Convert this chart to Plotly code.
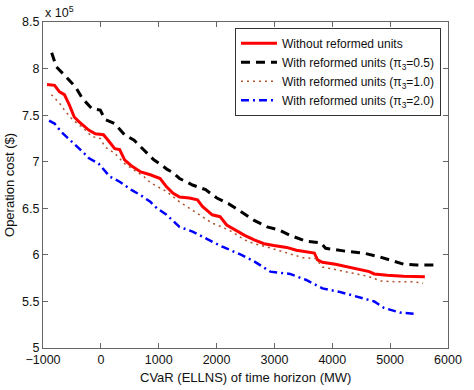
import plotly.graph_objects as go

# ---- data (operation cost in units of 1e5 $) ----
red_x = [-930, -800, -715, -630, -545, -460, -380, -210, -95, 45, 125, 240, 325, 410, 520, 690, 855, 1025,
         1135, 1250, 1360, 1530, 1670, 1755, 1925, 2060, 2175, 2315, 2485, 2650, 2820, 2990, 3210, 3380,
         3550, 3690, 3745, 3830, 4055, 4280, 4500, 4640, 4725, 4950, 5230, 5600]
red_y = [7.83, 7.82, 7.75, 7.72, 7.61, 7.48, 7.43, 7.34, 7.30, 7.29, 7.23, 7.14, 7.13, 7.02, 6.96, 6.89, 6.86, 6.82,
         6.73, 6.66, 6.62, 6.61, 6.59, 6.52, 6.43, 6.41, 6.32, 6.27, 6.21, 6.16, 6.12, 6.10, 6.08, 6.05,
         6.03, 6.02, 5.945, 5.92, 5.90, 5.87, 5.84, 5.82, 5.795, 5.78, 5.77, 5.765]

black_x = [-850, -770, -600, -435, -320, -155, -10, 70, 240, 410, 575, 745, 915, 1080, 1140, 1250, 1360, 1585,
           1810, 2005, 2205, 2430, 2650, 2875, 3070, 3270, 3550, 3800, 3885, 4220, 4530, 4810, 5005, 5230,
           5455, 5850]
black_y = [8.17, 8.02, 7.91, 7.80, 7.68, 7.57, 7.555, 7.455, 7.41, 7.29, 7.23, 7.13, 7.02, 6.95, 6.92, 6.88, 6.82, 6.75,
           6.70, 6.61, 6.55, 6.46, 6.37, 6.30, 6.27, 6.21, 6.145, 6.13, 6.07, 6.04, 6.02, 5.98, 5.945, 5.90,
           5.89, 5.89]

brown_x = [-855, -715, -630, -490, -320, -155, -10, 70, 240, 410, 575, 745, 855, 1135, 1360, 1585, 1755, 1925,
           2090, 2260, 2485, 2650, 2900, 3100, 3325, 3495, 3715, 3830, 4055, 4335, 4615, 4840, 5120, 5400, 5570]
brown_y = [7.72, 7.63, 7.555, 7.45, 7.37, 7.27, 7.25, 7.16, 7.09, 6.98, 6.91, 6.84, 6.775, 6.68, 6.57, 6.48, 6.41, 6.34,
           6.30, 6.25, 6.16, 6.12, 6.08, 6.04, 6.00, 5.97, 5.96, 5.87, 5.84, 5.81, 5.77, 5.72, 5.71, 5.71, 5.695]

blue_x = [-895, -800, -685, -490, -320, -210, -40, 155, 325, 520, 690, 855, 970, 1135, 1360, 1585, 1810, 1980,
          2090, 2430, 2650, 2930, 3270, 3550, 3830, 4110, 4445, 4725, 4895, 5175, 5430]
blue_y = [7.44, 7.41, 7.32, 7.21, 7.11, 7.04, 6.98, 6.84, 6.785, 6.70, 6.64, 6.57, 6.50, 6.43, 6.30, 6.25, 6.18, 6.12,
          6.09, 6.00, 5.93, 5.82, 5.795, 5.73, 5.64, 5.605, 5.55, 5.50, 5.43, 5.38, 5.365]

names = ["Without reformed units",
         "With reformed units (π<sub>3</sub>=0.5)",
         "With reformed units (π<sub>3</sub>=1.0)",
         "With reformed units (π<sub>3</sub>=2.0)"]

x_ticks = [-1000, 0, 1000, 2000, 3000, 4000, 5000, 6000]
y_ticks = [5, 5.5, 6, 6.5, 7, 7.5, 8, 8.5]
y_tick_labels = ["5", "5.5", "6", "6.5", "7", "7.5", "8", "8.5"]

FONT = "Liberation Sans, Arial, sans-serif"

fig = go.Figure()
fig.add_trace(go.Scatter(x=red_x, y=red_y, mode="lines", name=names[0],
                         line=dict(color="#ff0000", width=3)))
fig.add_trace(go.Scatter(x=black_x, y=black_y, mode="lines", name=names[1],
                         line=dict(color="#000000", width=3, dash="9px,6px")))
fig.add_trace(go.Scatter(x=brown_x, y=brown_y, mode="lines", name=names[2],
                         line=dict(color="#b0502a", width=1.5, dash="2px,4px")))
fig.add_trace(go.Scatter(x=blue_x, y=blue_y, mode="lines", name=names[3],
                         line=dict(color="#0000ff", width=2.5, dash="8px,4px,2px,4px")))

axis_common = dict(showgrid=False, zeroline=False, showline=True, linecolor="#666666", linewidth=1,
                   mirror="ticks", ticks="inside", ticklen=5, tickcolor="#666666",
                   tickfont=dict(family=FONT, size=12.5, color="#111111"))

fig.update_layout(
    width=474, height=390,
    margin=dict(l=43, r=15, t=22, b=42),
    paper_bgcolor="white", plot_bgcolor="white",
    font=dict(family=FONT, size=12, color="#111111"),
    xaxis=dict(range=[-1000, 6000], tickvals=x_ticks, **axis_common),
    yaxis=dict(range=[5, 8.5], tickvals=y_ticks, ticktext=y_tick_labels, **axis_common),
    legend=dict(x=0.474, y=0.982, xanchor="left", yanchor="top",
                bordercolor="#333333", borderwidth=1, bgcolor="white",
                font=dict(family=FONT, size=12, color="#111111"),
                tracegroupgap=0, itemwidth=36),
    showlegend=True,
    annotations=[
        dict(text="x 10<sup>5</sup>", xref="paper", yref="paper", x=0.0, y=1.0,
             xanchor="left", yanchor="bottom", showarrow=False,
             font=dict(family=FONT, size=12.5, color="#111111")),
        dict(text="CVaR (ELLNS) of time horizon (MW)", xref="paper", yref="paper",
             x=0.5, y=-0.092, xanchor="center", yanchor="middle", showarrow=False,
             font=dict(family=FONT, size=13, color="#111111")),
        dict(text="Operation cost ($)", xref="paper", yref="paper", textangle=-90,
             x=-0.084, y=0.5, xanchor="center", yanchor="middle", showarrow=False,
             font=dict(family=FONT, size=13, color="#111111")),
    ],
)

fig.write_html("out.html", config={"displayModeBar": False},
               post_script="document.body.style.margin='0';")
